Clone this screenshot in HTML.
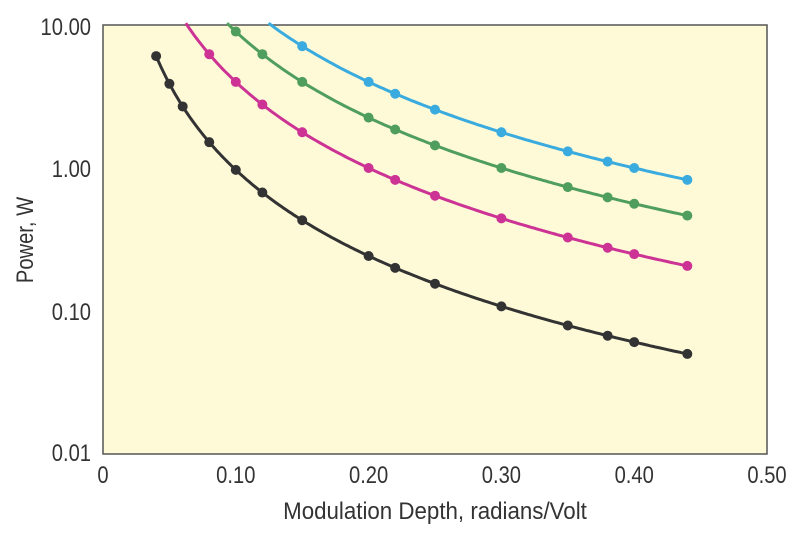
<!DOCTYPE html>
<html><head><meta charset="utf-8"><style>
html,body{margin:0;padding:0;background:#fff;}
svg{display:block;}
text{font-family:"Liberation Sans",sans-serif;fill:#333;}
</style></head><body>
<svg id="s" width="800" height="538" xmlns="http://www.w3.org/2000/svg">
<rect x="103" y="25" width="664" height="429" fill="#fefad8" stroke="#555" stroke-width="1.5"/>
</svg>
<script>
const s=document.getElementById('s');const NS='http://www.w3.org/2000/svg';
const X=x=>103+x*1328, Y=p=>454-(Math.log10(p)+2)*143;
function el(t,a,txt){const e=document.createElementNS(NS,t);for(const k in a)e.setAttribute(k,a[k]);if(txt!=null)e.textContent=txt;s.appendChild(e);return e;}
const series=[[0.0097,'#333333',0.04,[0.04,0.05,0.06,0.08,0.10,0.12,0.15,0.20,0.22,0.25,0.30,0.35,0.38,0.40,0.44]],
[0.04,'#cc3394',0,[0.08,0.10,0.12,0.15,0.20,0.22,0.25,0.30,0.35,0.38,0.40,0.44]],
[0.09,'#4f9e5e',0,[0.10,0.12,0.15,0.20,0.22,0.25,0.30,0.35,0.38,0.40,0.44]],
[0.16,'#3aabdf',0,[0.15,0.20,0.22,0.25,0.30,0.35,0.38,0.40,0.44]]];
for(const [k,c,x0,pts] of series){
 let start=x0||Math.sqrt(k/10.3);let d='';
 for(let x=start;x<=0.4401;x+=0.002){d+=(d?'L':'M')+X(x).toFixed(1)+','+Y(k/x/x).toFixed(1);}
 el('path',{d,fill:'none',stroke:c,'stroke-width':3});
 for(const x of pts)el('circle',{cx:X(x),cy:Y(k/x/x),r:5,fill:c});
}
const yl=[['10.00',10,35],['1.00',1],['0.10',0.1],['0.01',0.01,461]];
for(const [t,v,b] of yl)el('text',{x:91,y:b||Y(v)+9,'text-anchor':'end','font-size':24,transform:`translate(91,0) scale(0.84,1) translate(-91,0)`},t);
const xl=['0','0.10','0.20','0.30','0.40','0.50'];
xl.forEach((t,i)=>{const cx=X(i*0.1);el('text',{x:cx,y:483,'text-anchor':'middle','font-size':24,transform:`translate(${cx},0) scale(0.84,1) translate(${-cx},0)`},t);});
el('text',{x:435,y:519,'text-anchor':'middle','font-size':24,transform:'translate(435,0) scale(0.93,1) translate(-435,0)'},'Modulation Depth, radians/Volt');
el('text',{x:0,y:0,'text-anchor':'middle','font-size':24,transform:'translate(33,240) rotate(-90) scale(0.84,1)'},'Power, W');
</script>
</body></html>
